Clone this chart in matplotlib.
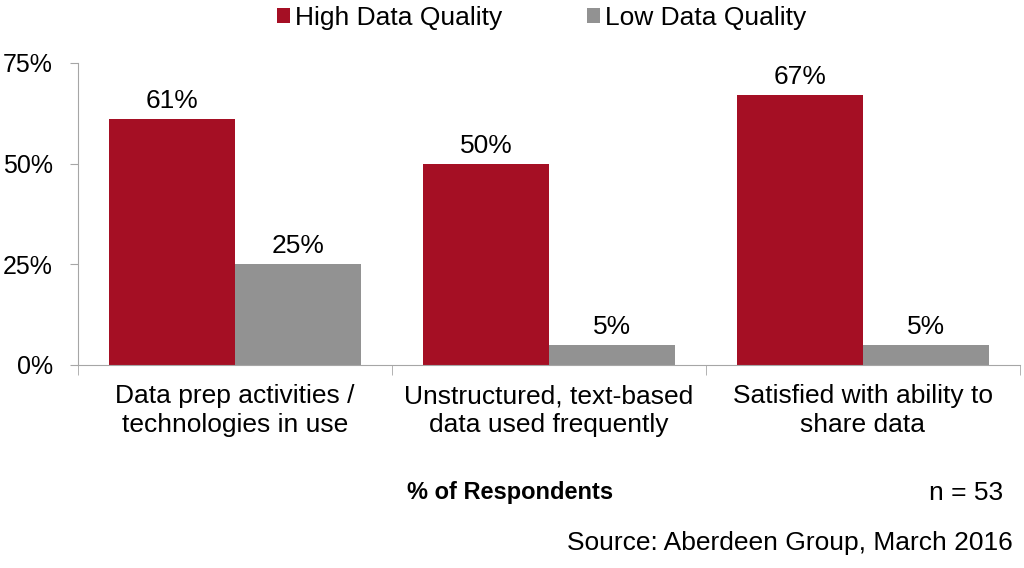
import matplotlib.pyplot as plt
import numpy as np

plt.rcParams['font.family'] = ['Liberation Sans', 'DejaVu Sans']

categories = ['Data prep activities /\ntechnologies in use',
              'Unstructured, text-based\ndata used frequently',
              'Satisfied with ability to\nshare data']
high_quality = [61, 50, 67]
low_quality = [25, 5, 5]
series_names = ['High Data Quality', 'Low Data Quality']

red = '#A50F24'
grey = '#929292'
axis_grey = '#A6A6A6'

fig = plt.figure(figsize=(10.24, 5.68), dpi=100)
ax = fig.add_axes([78 / 1024, 1 - 365 / 568, 942 / 1024, 302 / 568])

x = np.arange(len(categories))
w = 0.4
b1 = ax.bar(x - w / 2, high_quality, w, color=red, label=series_names[0])
b2 = ax.bar(x + w / 2, low_quality, w, color=grey, label=series_names[1])

for bars in (b1, b2):
    for rect in bars:
        ax.text(rect.get_x() + rect.get_width() / 2, rect.get_height() + 1.5,
                f'{rect.get_height():.0f}%', ha='center', va='bottom', fontsize=19)

ax.set_xlim(-0.5, len(categories) - 0.5)
ax.set_ylim(0, 75)
ax.set_yticks([0, 25, 50, 75])
ax.set_yticklabels([f'{v}%' for v in [0, 25, 50, 75]], fontsize=18)

# category labels centred, ticks on the boundaries
ax.set_xticks(x)
ax.set_xticklabels(categories, fontsize=19, linespacing=1.25)
ax.tick_params(axis='x', length=0, pad=14)
ax.set_xticks(np.arange(len(categories) + 1) - 0.5, minor=True)
ax.tick_params(axis='x', which='minor', length=7, color=axis_grey, direction='out')
ax.tick_params(axis='y', length=6, color=axis_grey, pad=12)

for s in ['top', 'right']:
    ax.spines[s].set_visible(False)
ax.spines['left'].set_color(axis_grey)
ax.spines['bottom'].set_color(axis_grey)

fig.legend(handles=[b1, b2], loc='center', bbox_to_anchor=(0.529, 1 - 18 / 568),
           ncol=2, frameon=False, fontsize=19, handlelength=0.5, handleheight=0.5,
           handletextpad=0.2, columnspacing=3.2)

fig.text(510 / 1024, 1 - 493 / 568, '% of Respondents', ha='center', va='center',
         fontsize=17, fontweight='bold')
fig.text(1003 / 1024, 1 - 493 / 568, 'n = 53', ha='right', va='center', fontsize=19)
fig.text(1013 / 1024, 1 - 543 / 568, 'Source: Aberdeen Group, March 2016',
         ha='right', va='center', fontsize=19)

fig.savefig('out.png', dpi=100)
